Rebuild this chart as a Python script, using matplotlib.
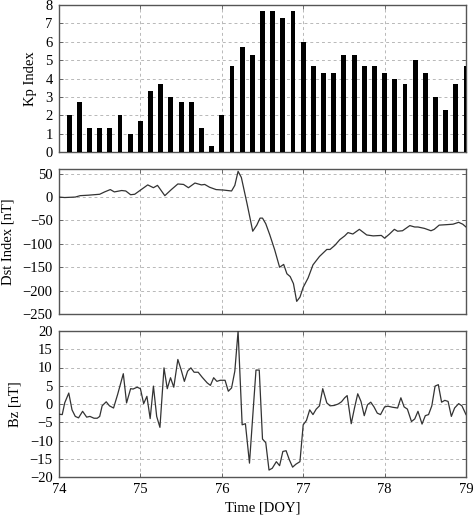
import numpy as np
import matplotlib
matplotlib.use("Agg")
import matplotlib.pyplot as plt

plt.rcParams['font.family'] = ['Liberation Serif', 'DejaVu Serif']
plt.rcParams['font.size'] = 10.5

# Kp index (3-hourly)
kp_t = np.arange(74.125, 79.001, 0.125)
kp = [2.0, 2.7, 1.3, 1.3, 1.3, 2.0, 1.0, 1.7, 3.3, 3.7,
      3.0, 2.7, 2.7, 1.3, 0.3, 2.0, 4.7, 5.7, 5.3, 7.7,
      7.7, 7.3, 7.7, 6.0, 4.7, 4.3, 4.3, 5.3, 5.3, 4.7,
      4.7, 4.3, 4.0, 3.7, 5.0, 4.3, 3.0, 2.3, 3.7, 4.7]

# Dst index
dst_t = [74.00, 74.07, 74.20, 74.26, 74.36, 74.50, 74.56, 74.63, 74.68, 74.77,
         74.82, 74.88, 74.93, 75.01, 75.09, 75.16, 75.21, 75.30, 75.38, 75.46,
         75.53, 75.59, 75.67, 75.75, 75.79, 75.85, 75.93, 76.02, 76.12, 76.16,
         76.20, 76.24, 76.31, 76.38, 76.43, 76.47, 76.50, 76.54, 76.59, 76.65,
         76.71, 76.76, 76.80, 76.84, 76.88, 76.92, 76.96, 77.00, 77.06, 77.12,
         77.20, 77.29, 77.33, 77.39, 77.45, 77.51, 77.55, 77.61, 77.69, 77.78,
         77.86, 77.96, 78.00, 78.06, 78.12, 78.16, 78.22, 78.31, 78.37, 78.41,
         78.49, 78.57, 78.61, 78.67, 78.76, 78.84, 78.91, 78.96, 79.00]
dst_v = [0, -1, 0, 3, 4, 6, 11, 16, 11, 14,
         13, 5, 6, 16, 26, 20, 25, 3, 16, 28,
         27, 20, 30, 26, 27, 21, 16, 15, 13, 25,
         55, 42, -14, -73, -60, -45, -45, -57, -81, -113,
         -150, -144, -164, -170, -185, -223, -214, -193, -173, -145,
         -127, -112, -112, -103, -91, -83, -76, -79, -69, -81,
         -83, -82, -88, -79, -69, -73, -72, -61, -64, -64,
         -67, -72, -69, -60, -59, -58, -54, -58, -64]

# Bz
bz_t = [74.00, 74.04, 74.07, 74.12, 74.16, 74.20, 74.24, 74.29, 74.34, 74.38,
        74.43, 74.47, 74.50, 74.53, 74.58, 74.62, 74.67, 74.72, 74.79, 74.83,
        74.88, 74.91, 74.96, 75.00, 75.04, 75.08, 75.12, 75.16, 75.20, 75.24,
        75.29, 75.33, 75.37, 75.41, 75.46, 75.50, 75.54, 75.58, 75.62, 75.66,
        75.71, 75.76, 75.82, 75.86, 75.90, 75.94, 75.98,
        76.04, 76.08, 76.12, 76.16, 76.20, 76.25, 76.29, 76.34, 76.38, 76.42,
        76.46, 76.50, 76.54, 76.58, 76.62, 76.67, 76.71, 76.75, 76.79, 76.83,
        76.87, 76.91, 76.96, 77.00, 77.04, 77.08, 77.12, 77.16, 77.20, 77.24,
        77.29, 77.33, 77.38, 77.43, 77.47, 77.51,
        77.54, 77.59, 77.63, 77.67, 77.71, 77.75, 77.79, 77.83, 77.87, 77.91,
        77.95, 78.00, 78.04, 78.10, 78.16, 78.20, 78.24, 78.28, 78.33, 78.37,
        78.41, 78.46, 78.50, 78.54, 78.58, 78.62, 78.66, 78.70, 78.74, 78.78,
        78.82, 78.86, 78.91, 78.95, 79.00]
bz_v = [-2.8, -2.9, 0.3, 3.0, -1.6, -3.4, -3.8, -2.0, -3.6, -3.4,
        -3.9, -3.9, -3.4, -0.5, 0.6, -0.5, -1.1, 2.6, 8.3, 0.3,
        4.2, 4.1, 4.6, 4.2, 0.1, 2.1, -4.0, 4.9, -3.4, -6.4,
        9.9, 4.2, 7.2, 4.6, 12.2, 9.4, 6.2, 9.0, 9.9, 8.7,
        8.7, 7.3, 5.8, 5.1, 7.2, 6.2, 6.5,
        6.5, 3.5, 4.4, 9.0, 20.0, -5.7, -5.4, -16.2, -3.4, 9.3,
        9.3, -9.6, -10.6, -18.1, -17.6, -15.8, -16.9, -13.0, -12.8, -15.3,
        -17.3, -16.5, -15.8, -5.7, -4.5, -1.6, -2.9, -1.4, -0.5, 4.2,
        0.3, -0.5, -0.4, 0.0, 0.6, 1.7,
        2.3, -5.4, -1.1, 2.8, 0.7, -3.2, -0.2, 0.5, -0.8, -2.5,
        -2.9, -0.8, -0.6, -0.9, -1.1, 1.7, -0.8, -1.4, -4.8, -4.1,
        -2.0, -5.5, -3.2, -2.9, -0.5, 4.9, 5.3, 0.5, 1.0, 0.7,
        -3.4, -1.1, 0.1, -0.5, -2.9]

x_ticks = [74, 75, 76, 77, 78, 79]

fig = plt.figure(figsize=(4.74, 5.19), dpi=100)
L, W = 59 / 474, 407 / 474
ax1 = fig.add_axes([L, 1 - 152 / 519, W, 147 / 519])
ax2 = fig.add_axes([L, 1 - 314 / 519, W, 145 / 519])
ax3 = fig.add_axes([L, 1 - 477 / 519, W, 146 / 519])

grid_kw = dict(color='#b8b8b8', linestyle=(0, (3, 3)), linewidth=0.7)
line_col = '#333333'

ax1.bar(kp_t, kp, width=0.06, color='black', zorder=3)
ax1.set_ylim(0, 8)
ax1.set_yticks(range(0, 9))
ax1.set_ylabel('Kp Index', labelpad=6)

ax2.plot(dst_t, dst_v, color=line_col, linewidth=0.9, zorder=3)
ax2.set_ylim(-250, 60)
ax2.set_yticks([-250, -200, -150, -100, -50, 0, 50])
ax2.set_ylabel('Dst Index [nT]', labelpad=6)

ax3.plot(bz_t, bz_v, color=line_col, linewidth=0.9, zorder=3)
ax3.set_ylim(-20, 20)
ax3.set_yticks(range(-20, 21, 5))
ax3.set_ylabel('Bz [nT]', labelpad=6)
ax3.set_xlabel('Time [DOY]', labelpad=4)

for ax in (ax1, ax2, ax3):
    ax.set_xlim(74, 79)
    ax.set_xticks(x_ticks)
    ax.grid(True, **grid_kw)
    ax.set_axisbelow(True)
    ax.tick_params(direction='in', length=3, width=0.6, color='#555555',
                   top=True, right=True, labelsize=10.5, pad=4.5)
    for s in ax.spines.values():
        s.set_color('#555555')
        s.set_linewidth(1.0)
for ax in (ax1, ax2):
    ax.tick_params(labelbottom=False)

fig.savefig('out.png', dpi=100)
